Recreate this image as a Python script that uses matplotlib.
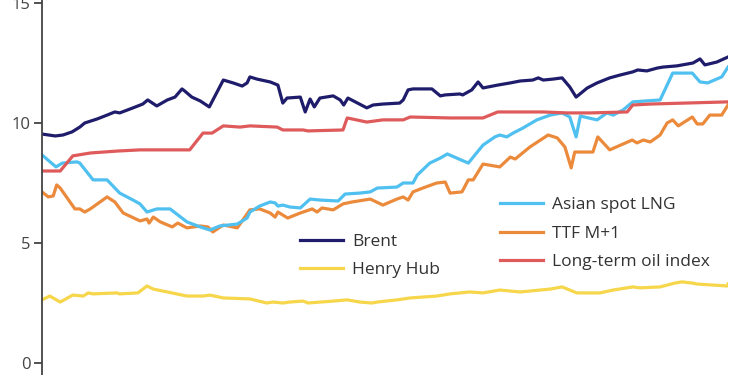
import matplotlib
matplotlib.use("Agg")
import matplotlib.pyplot as plt
from matplotlib.lines import Line2D

# weeks since start of period, price in USD/MBtu
brent_t = [0, 1.9, 3.0, 4.3, 5.4, 6.1, 7.9, 9.3, 10.4, 11.1, 13.0, 14.4, 15.1, 16.4, 17.9, 19.0,
           20.0, 20.4, 21.4, 22.6, 23.9, 25.9, 27.3, 28.6, 29.3, 29.7, 30.7, 32.6, 33.7, 34.4,
           35.0, 36.9, 37.6, 38.3, 38.9, 39.7, 41.6, 42.6, 43.1, 43.7, 46.4, 47.3, 48.7, 51.1,
           51.6, 52.3, 53.0, 55.7, 56.9, 57.6, 59.7, 60.1, 61.4, 62.3, 63.0, 65.1, 66.9, 68.3,
           70.1, 70.9, 71.6, 73.0, 74.3, 75.4, 76.3, 77.9, 79.3, 81.1, 82.6, 84.4, 85.1, 86.4,
           87.9, 88.7, 90.7, 93.0, 94.0, 94.7, 96.4, 98.0]
brent_v = [9.54, 9.46, 9.50, 9.63, 9.83, 10.0, 10.17, 10.33, 10.46, 10.42, 10.63, 10.79, 10.96,
           10.71, 10.96, 11.08, 11.42, 11.33, 11.08, 10.92, 10.67, 11.79, 11.67, 11.54, 11.67,
           11.92, 11.83, 11.71, 11.58, 10.83, 11.04, 11.08, 10.46, 11.0, 10.67, 11.04, 11.13,
           10.96, 10.75, 11.04, 10.63, 10.75, 10.79, 10.83, 10.96, 11.38, 11.42, 11.42, 11.13,
           11.17, 11.21, 11.17, 11.38, 11.71, 11.46, 11.58, 11.67, 11.75, 11.79, 11.88, 11.79,
           11.83, 11.88, 11.50, 11.08, 11.46, 11.67, 11.88, 12.0, 12.13, 12.21, 12.17, 12.29,
           12.33, 12.38, 12.50, 12.67, 12.42, 12.54, 12.75]

oil_t = [0, 2.6, 4.4, 6.9, 10.7, 14.0, 21.1, 23.0, 24.3, 25.9, 28.3, 29.7, 33.6, 34.4, 37.3,
         38.0, 43.0, 43.6, 46.4, 48.7, 51.6, 52.6, 58.3, 63.0, 65.1, 71.6, 75.0, 78.3, 83.6,
         84.4, 86.9, 98.0]
oil_v = [8.0, 8.0, 8.63, 8.75, 8.83, 8.88, 8.88, 9.58, 9.58, 9.88, 9.83, 9.88, 9.83, 9.71, 9.71,
         9.67, 9.71, 10.21, 10.04, 10.13, 10.13, 10.25, 10.21, 10.21, 10.46, 10.46, 10.42, 10.42,
         10.46, 10.75, 10.79, 10.88]

lng_t = [0, 2.0, 2.9, 5.0, 5.4, 7.3, 9.3, 11.1, 13.0, 14.0, 15.0, 16.4, 18.3, 20.7, 22.6, 24.0,
         25.4, 27.9, 29.3, 29.7, 31.1, 32.6, 33.3, 33.7, 34.4, 35.4, 36.9, 38.3, 39.7, 42.3,
         43.3, 45.4, 46.9, 47.9, 50.7, 51.6, 53.0, 53.6, 55.4, 56.9, 57.9, 60.9, 63.0, 64.7,
         65.4, 66.4, 67.3, 68.7, 70.7, 72.6, 74.3, 75.4, 76.3, 76.9, 79.3, 80.7, 81.6, 83.0,
         84.4, 88.3, 89.3, 90.1, 92.9, 94.0, 95.1, 97.1, 98.0]
lng_v = [8.67, 8.17, 8.33, 8.38, 8.33, 7.63, 7.63, 7.08, 6.79, 6.63, 6.29, 6.42, 6.42, 5.88,
         5.67, 5.54, 5.71, 5.79, 6.04, 6.29, 6.54, 6.71, 6.67, 6.54, 6.58, 6.50, 6.46, 6.83,
         6.79, 6.75, 7.04, 7.08, 7.13, 7.29, 7.33, 7.50, 7.50, 7.83, 8.33, 8.54, 8.71, 8.33,
         9.08, 9.42, 9.50, 9.42, 9.58, 9.79, 10.13, 10.33, 10.42, 10.25, 9.42, 10.29, 10.13,
         10.42, 10.33, 10.54, 10.88, 10.96, 11.58, 12.08, 12.08, 11.71, 11.67, 11.92, 12.33]

ttf_t = [0, 0.9, 1.6, 2.1, 2.6, 4.7, 5.4, 6.1, 6.9, 9.3, 10.4, 11.6, 14.0, 15.0, 15.3, 15.9,
         16.9, 18.6, 19.4, 20.7, 22.6, 23.7, 24.4, 25.9, 27.9, 29.7, 31.1, 32.6, 33.3, 33.7,
         35.1, 36.9, 38.6, 39.3, 40.0, 41.6, 43.0, 44.3, 46.9, 48.7, 50.7, 51.6, 52.3, 53.0,
         54.4, 56.4, 57.6, 58.3, 60.0, 60.9, 61.6, 63.0, 65.4, 66.9, 67.6, 69.7, 72.3, 73.6,
         74.7, 75.6, 76.1, 78.7, 79.4, 81.1, 84.3, 85.0, 85.9, 86.9, 88.3, 89.3, 90.1, 90.9,
         92.9, 93.6, 94.4, 95.4, 97.1, 98.0]
ttf_v = [7.13, 6.92, 6.96, 7.42, 7.29, 6.42, 6.42, 6.29, 6.42, 6.92, 6.71, 6.25, 5.92, 6.0,
         5.83, 6.08, 5.88, 5.67, 5.83, 5.63, 5.71, 5.67, 5.46, 5.75, 5.63, 6.38, 6.42, 6.25,
         6.08, 6.29, 6.04, 6.25, 6.42, 6.29, 6.46, 6.38, 6.63, 6.71, 6.83, 6.58, 6.83, 6.92,
         6.79, 7.13, 7.29, 7.50, 7.54, 7.08, 7.13, 7.63, 7.63, 8.29, 8.17, 8.58, 8.50, 9.0,
         9.50, 9.38, 9.0, 8.13, 8.79, 8.79, 9.42, 8.88, 9.29, 9.17, 9.29, 9.21, 9.50, 10.0,
         10.13, 9.88, 10.25, 9.96, 9.96, 10.33, 10.33, 10.75]

hh_t = [0, 1.1, 2.6, 4.4, 5.9, 6.6, 7.3, 10.7, 11.1, 13.7, 15.0, 15.9, 17.9, 20.7, 23.0, 24.0,
        25.9, 29.7, 32.1, 33.0, 34.4, 35.4, 37.3, 38.0, 41.6, 43.6, 45.4, 47.1, 47.9, 50.7,
        52.6, 56.4, 58.3, 61.1, 63.0, 65.4, 68.3, 72.6, 74.3, 76.4, 79.7, 81.6, 84.4, 85.4,
        88.3, 90.4, 91.4, 92.9, 93.6, 97.9, 98.0]
hh_v = [2.63, 2.79, 2.54, 2.83, 2.79, 2.92, 2.88, 2.92, 2.88, 2.92, 3.21, 3.08, 2.96, 2.79,
        2.79, 2.83, 2.71, 2.67, 2.50, 2.54, 2.50, 2.54, 2.58, 2.50, 2.58, 2.63, 2.54, 2.50,
        2.54, 2.63, 2.71, 2.79, 2.88, 2.96, 2.92, 3.04, 2.96, 3.08, 3.17, 2.92, 2.92, 3.04,
        3.17, 3.13, 3.17, 3.33, 3.38, 3.33, 3.29, 3.21, 3.29]

y_ticks = [0, 5, 10, 15]

colors = {
    "Brent": "#1f1d6b",
    "Henry Hub": "#f6d64a",
    "Asian spot LNG": "#4fc0f0",
    "TTF M+1": "#ec8a3c",
    "Long-term oil index": "#df5a5b",
}

plt.rcParams["font.family"] = ["Open Sans", "DejaVu Sans"]

fig = plt.figure(figsize=(7.5, 3.75), dpi=100)
ax = fig.add_axes([42 / 750, 0, 686 / 750, 1])

lw = 2.3
ax.plot(hh_t, hh_v, color=colors["Henry Hub"], lw=lw)
ax.plot(ttf_t, ttf_v, color=colors["TTF M+1"], lw=lw)
ax.plot(lng_t, lng_v, color=colors["Asian spot LNG"], lw=lw)
ax.plot(oil_t, oil_v, color=colors["Long-term oil index"], lw=lw)
ax.plot(brent_t, brent_v, color=colors["Brent"], lw=lw)

ax.set_xlim(0, 98)
ax.set_ylim(-0.5, 15.125)
ax.set_yticks(y_ticks)
ax.set_xticks([])
for s in ["top", "right", "bottom"]:
    ax.spines[s].set_visible(False)
ax.spines["left"].set_color("#444444")
ax.spines["left"].set_linewidth(1.3)
ax.tick_params(axis="y", length=6, width=1.3, color="#444444",
               labelsize=12, labelcolor="#444444", pad=2)
ax.set_facecolor("none")


def handles(names):
    return [Line2D([0], [0], color=colors[n], lw=lw, label=n) for n in names]


leg_opts = dict(loc="center left", frameon=False, fontsize=12.5, handlelength=2.5,
                handletextpad=0.5, labelspacing=0.72, borderpad=0, borderaxespad=0)
leg1 = fig.legend(handles=handles(["Brent", "Henry Hub"]),
                  bbox_to_anchor=(300 / 750, 1 - 256 / 375), **leg_opts)
leg2 = fig.legend(handles=handles(["Asian spot LNG", "TTF M+1", "Long-term oil index"]),
                  bbox_to_anchor=(500 / 750, 1 - 233.5 / 375), **leg_opts)
for leg in (leg1, leg2):
    for t in leg.get_texts():
        t.set_color("#333333")

fig.savefig("out.png", dpi=100)
